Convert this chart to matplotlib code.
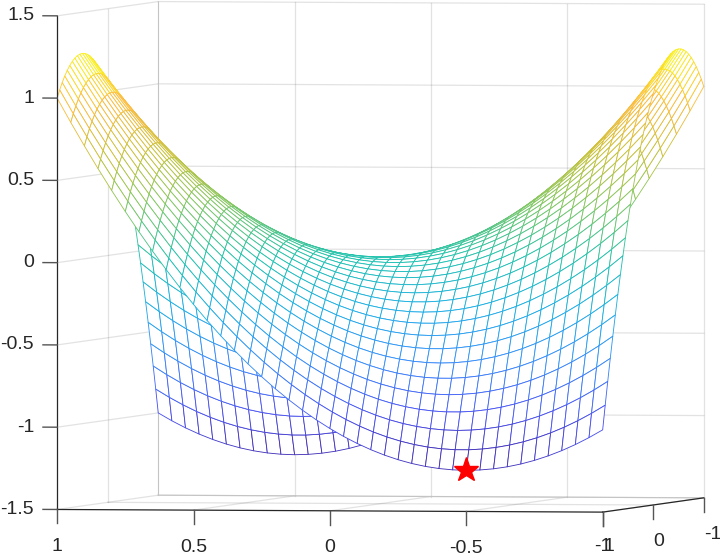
#!/usr/bin/env python3
import matplotlib

matplotlib.use("Agg")
import matplotlib.pyplot as plt
from matplotlib.colors import LinearSegmentedColormap, Normalize
from mpl_toolkits.mplot3d import proj3d
from mpl_toolkits.mplot3d.art3d import Poly3DCollection

X_GRID = [-1.0, -0.95, -0.9, -0.85, -0.8, -0.75, -0.7, -0.65, -0.6, -0.55, -0.5, -0.45, -0.4, -0.35,
          -0.3, -0.25, -0.2, -0.15, -0.1, -0.05, 0.0, 0.05, 0.1, 0.15, 0.2, 0.25, 0.3, 0.35, 0.4,
          0.45, 0.5, 0.55, 0.6, 0.65, 0.7, 0.75, 0.8, 0.85, 0.9, 0.95, 1.0]
Y_GRID = list(X_GRID)

Z_STEP = 0.0025
Z_ROWS = [
    [400,341,284,229,176,125,76,29,-16,-59,-100,-139,-176,-211,-244,-275,-304,-331,-356,-379,-400,-419,-436,-451,-464,-475,-484,-491,-496,-499,-500,-499,-496,-491,-484,-475,-464,-451,-436,-419,-400],
    [419,361,305,251,199,149,101,55,11,-31,-71,-109,-145,-179,-211,-241,-269,-295,-319,-341,-361,-379,-395,-409,-421,-431,-439,-445,-449,-451,-451,-449,-445,-439,-431,-421,-409,-395,-379,-361,-341],
    [436,379,324,271,220,171,124,79,36,-5,-44,-81,-116,-149,-180,-209,-236,-261,-284,-305,-324,-341,-356,-369,-380,-389,-396,-401,-404,-405,-404,-401,-396,-389,-380,-369,-356,-341,-324,-305,-284],
    [451,395,341,289,239,191,145,101,59,19,-19,-55,-89,-121,-151,-179,-205,-229,-251,-271,-289,-305,-319,-331,-341,-349,-355,-359,-361,-361,-359,-355,-349,-341,-331,-319,-305,-289,-271,-251,-229],
    [464,409,356,305,256,209,164,121,80,41,4,-31,-64,-95,-124,-151,-176,-199,-220,-239,-256,-271,-284,-295,-304,-311,-316,-319,-320,-319,-316,-311,-304,-295,-284,-271,-256,-239,-220,-199,-176],
    [475,421,369,319,271,225,181,139,99,61,25,-9,-41,-71,-99,-125,-149,-171,-191,-209,-225,-239,-251,-261,-269,-275,-279,-281,-281,-279,-275,-269,-261,-251,-239,-225,-209,-191,-171,-149,-125],
    [484,431,380,331,284,239,196,155,116,79,44,11,-20,-49,-76,-101,-124,-145,-164,-181,-196,-209,-220,-229,-236,-241,-244,-245,-244,-241,-236,-229,-220,-209,-196,-181,-164,-145,-124,-101,-76],
    [491,439,389,341,295,251,209,169,131,95,61,29,-1,-29,-55,-79,-101,-121,-139,-155,-169,-181,-191,-199,-205,-209,-211,-211,-209,-205,-199,-191,-181,-169,-155,-139,-121,-101,-79,-55,-29],
    [496,445,396,349,304,261,220,181,144,109,76,45,16,-11,-36,-59,-80,-99,-116,-131,-144,-155,-164,-171,-176,-179,-180,-179,-176,-171,-164,-155,-144,-131,-116,-99,-80,-59,-36,-11,16],
    [499,449,401,355,311,269,229,191,155,121,89,59,31,5,-19,-41,-61,-79,-95,-109,-121,-131,-139,-145,-149,-151,-151,-149,-145,-139,-131,-121,-109,-95,-79,-61,-41,-19,5,31,59],
    [500,451,404,359,316,275,236,199,164,131,100,71,44,19,-4,-25,-44,-61,-76,-89,-100,-109,-116,-121,-124,-125,-124,-121,-116,-109,-100,-89,-76,-61,-44,-25,-4,19,44,71,100],
    [499,451,405,361,319,279,241,205,171,139,109,81,55,31,9,-11,-29,-45,-59,-71,-81,-89,-95,-99,-101,-101,-99,-95,-89,-81,-71,-59,-45,-29,-11,9,31,55,81,109,139],
    [496,449,404,361,320,281,244,209,176,145,116,89,64,41,20,1,-16,-31,-44,-55,-64,-71,-76,-79,-80,-79,-76,-71,-64,-55,-44,-31,-16,1,20,41,64,89,116,145,176],
    [491,445,401,359,319,281,245,211,179,149,121,95,71,49,29,11,-5,-19,-31,-41,-49,-55,-59,-61,-61,-59,-55,-49,-41,-31,-19,-5,11,29,49,71,95,121,149,179,211],
    [484,439,396,355,316,279,244,211,180,151,124,99,76,55,36,19,4,-9,-20,-29,-36,-41,-44,-45,-44,-41,-36,-29,-20,-9,4,19,36,55,76,99,124,151,180,211,244],
    [475,431,389,349,311,275,241,209,179,151,125,101,79,59,41,25,11,-1,-11,-19,-25,-29,-31,-31,-29,-25,-19,-11,-1,11,25,41,59,79,101,125,151,179,209,241,275],
    [464,421,380,341,304,269,236,205,176,149,124,101,80,61,44,29,16,5,-4,-11,-16,-19,-20,-19,-16,-11,-4,5,16,29,44,61,80,101,124,149,176,205,236,269,304],
    [451,409,369,331,295,261,229,199,171,145,121,99,79,61,45,31,19,9,1,-5,-9,-11,-11,-9,-5,1,9,19,31,45,61,79,99,121,145,171,199,229,261,295,331],
    [436,395,356,319,284,251,220,191,164,139,116,95,76,59,44,31,20,11,4,-1,-4,-5,-4,-1,4,11,20,31,44,59,76,95,116,139,164,191,220,251,284,319,356],
    [419,379,341,305,271,239,209,181,155,131,109,89,71,55,41,29,19,11,5,1,-1,-1,1,5,11,19,29,41,55,71,89,109,131,155,181,209,239,271,305,341,379],
    [400,361,324,289,256,225,196,169,144,121,100,81,64,49,36,25,16,9,4,1,0,1,4,9,16,25,36,49,64,81,100,121,144,169,196,225,256,289,324,361,400],
    [379,341,305,271,239,209,181,155,131,109,89,71,55,41,29,19,11,5,1,-1,-1,1,5,11,19,29,41,55,71,89,109,131,155,181,209,239,271,305,341,379,419],
    [356,319,284,251,220,191,164,139,116,95,76,59,44,31,20,11,4,-1,-4,-5,-4,-1,4,11,20,31,44,59,76,95,116,139,164,191,220,251,284,319,356,395,436],
    [331,295,261,229,199,171,145,121,99,79,61,45,31,19,9,1,-5,-9,-11,-11,-9,-5,1,9,19,31,45,61,79,99,121,145,171,199,229,261,295,331,369,409,451],
    [304,269,236,205,176,149,124,101,80,61,44,29,16,5,-4,-11,-16,-19,-20,-19,-16,-11,-4,5,16,29,44,61,80,101,124,149,176,205,236,269,304,341,380,421,464],
    [275,241,209,179,151,125,101,79,59,41,25,11,-1,-11,-19,-25,-29,-31,-31,-29,-25,-19,-11,-1,11,25,41,59,79,101,125,151,179,209,241,275,311,349,389,431,475],
    [244,211,180,151,124,99,76,55,36,19,4,-9,-20,-29,-36,-41,-44,-45,-44,-41,-36,-29,-20,-9,4,19,36,55,76,99,124,151,180,211,244,279,316,355,396,439,484],
    [211,179,149,121,95,71,49,29,11,-5,-19,-31,-41,-49,-55,-59,-61,-61,-59,-55,-49,-41,-31,-19,-5,11,29,49,71,95,121,149,179,211,245,281,319,359,401,445,491],
    [176,145,116,89,64,41,20,1,-16,-31,-44,-55,-64,-71,-76,-79,-80,-79,-76,-71,-64,-55,-44,-31,-16,1,20,41,64,89,116,145,176,209,244,281,320,361,404,449,496],
    [139,109,81,55,31,9,-11,-29,-45,-59,-71,-81,-89,-95,-99,-101,-101,-99,-95,-89,-81,-71,-59,-45,-29,-11,9,31,55,81,109,139,171,205,241,279,319,361,405,451,499],
    [100,71,44,19,-4,-25,-44,-61,-76,-89,-100,-109,-116,-121,-124,-125,-124,-121,-116,-109,-100,-89,-76,-61,-44,-25,-4,19,44,71,100,131,164,199,236,275,316,359,404,451,500],
    [59,31,5,-19,-41,-61,-79,-95,-109,-121,-131,-139,-145,-149,-151,-151,-149,-145,-139,-131,-121,-109,-95,-79,-61,-41,-19,5,31,59,89,121,155,191,229,269,311,355,401,449,499],
    [16,-11,-36,-59,-80,-99,-116,-131,-144,-155,-164,-171,-176,-179,-180,-179,-176,-171,-164,-155,-144,-131,-116,-99,-80,-59,-36,-11,16,45,76,109,144,181,220,261,304,349,396,445,496],
    [-29,-55,-79,-101,-121,-139,-155,-169,-181,-191,-199,-205,-209,-211,-211,-209,-205,-199,-191,-181,-169,-155,-139,-121,-101,-79,-55,-29,-1,29,61,95,131,169,209,251,295,341,389,439,491],
    [-76,-101,-124,-145,-164,-181,-196,-209,-220,-229,-236,-241,-244,-245,-244,-241,-236,-229,-220,-209,-196,-181,-164,-145,-124,-101,-76,-49,-20,11,44,79,116,155,196,239,284,331,380,431,484],
    [-125,-149,-171,-191,-209,-225,-239,-251,-261,-269,-275,-279,-281,-281,-279,-275,-269,-261,-251,-239,-225,-209,-191,-171,-149,-125,-99,-71,-41,-9,25,61,99,139,181,225,271,319,369,421,475],
    [-176,-199,-220,-239,-256,-271,-284,-295,-304,-311,-316,-319,-320,-319,-316,-311,-304,-295,-284,-271,-256,-239,-220,-199,-176,-151,-124,-95,-64,-31,4,41,80,121,164,209,256,305,356,409,464],
    [-229,-251,-271,-289,-305,-319,-331,-341,-349,-355,-359,-361,-361,-359,-355,-349,-341,-331,-319,-305,-289,-271,-251,-229,-205,-179,-151,-121,-89,-55,-19,19,59,101,145,191,239,289,341,395,451],
    [-284,-305,-324,-341,-356,-369,-380,-389,-396,-401,-404,-405,-404,-401,-396,-389,-380,-369,-356,-341,-324,-305,-284,-261,-236,-209,-180,-149,-116,-81,-44,-5,36,79,124,171,220,271,324,379,436],
    [-341,-361,-379,-395,-409,-421,-431,-439,-445,-449,-451,-451,-449,-445,-439,-431,-421,-409,-395,-379,-361,-341,-319,-295,-269,-241,-211,-179,-145,-109,-71,-31,11,55,101,149,199,251,305,361,419],
    [-400,-419,-436,-451,-464,-475,-484,-491,-496,-499,-500,-499,-496,-491,-484,-475,-464,-451,-436,-419,-400,-379,-356,-331,-304,-275,-244,-211,-176,-139,-100,-59,-16,29,76,125,176,229,284,341,400],
]

X_TICKS = [1, 0.5, 0, -0.5, -1]
X_LABELS = ["1", "0.5", "0", "-0.5", "-1"]
Y_TICKS = [1, 0, -1]
Y_LABELS = ["1", "0", "-1"]
Z_TICKS = [1.5, 1, 0.5, 0, -0.5, -1, -1.5]
Z_LABELS = ["1.5", "1", "0.5", "0", "-0.5", "-1", "-1.5"]

STAR_X = [-0.5]
STAR_Y = [1]
STAR_Z = [-1.25]

PARULA = [(0.2422, 0.1504, 0.6603), (0.2810, 0.3228, 0.9579), (0.2000, 0.5500, 0.9800),
          (0.1000, 0.6800, 0.9000), (0.1200, 0.7600, 0.6800), (0.4900, 0.7800, 0.3900),
          (0.7800, 0.7600, 0.2200), (0.9900, 0.7300, 0.2400), (0.9769, 0.9839, 0.0805)]
TEXT_COLOR = "#262626"
GRID = dict(color="#262626", alpha=0.13, lw=0.9, zorder=1)
EDGE = dict(color="#c4c4c4", lw=0.8, zorder=1)
AXIS = dict(color="#262626", lw=0.9, zorder=3)
TICK = dict(color="#555555", lw=1.0, zorder=3)

plt.rcParams["font.family"] = ["Liberation Sans", "DejaVu Sans"]

fig = plt.figure(figsize=(7.2, 5.56), dpi=100)
ax = fig.add_axes([-81.7 / 720, -163 / 556, 900 / 720, 900 / 556], projection="3d", proj_type="ortho")
ax.computed_zorder = False
ax.set_xlim(-1, 1, view_margin=0)
ax.set_ylim(-1, 1, view_margin=0)
ax.set_zlim(-1.5, 1.5, view_margin=0)
ax.set_box_aspect((1, 1, 0.89))
ax.view_init(elev=1.5, azim=100.5)
ax.set_axis_off()


def tick_label(x, y, z, label, dx, dy, ha="center"):
    # 2D annotation at the projected tick, offset in pixels
    px, py, _ = proj3d.proj_transform(x, y, z, ax.get_proj())
    ax.annotate(label, xy=(px, py), xytext=(dx, dy), textcoords="offset pixels",
                ha=ha, va="center", fontsize=14, color=TEXT_COLOR)


# walls and floor
for z in Z_TICKS:
    ax.plot([1, 1], [1, -1], [z, z], **GRID)
    ax.plot([1, -1], [-1, -1], [z, z], **GRID)
for x in X_TICKS[1:]:
    ax.plot([x, x], [-1, -1], [-1.5, 1.5], **GRID)
    ax.plot([x, x], [1, -1], [-1.5, -1.5], **GRID)
ax.plot([1, 1], [0, 0], [-1.5, 1.5], **GRID)
ax.plot([1, -1], [0, 0], [-1.5, -1.5], **GRID)
ax.plot([1, 1], [-1, -1], [-1.5, 1.5], **EDGE)
ax.plot([1, -1], [-1, -1], [-1.5, -1.5], **EDGE)

# mesh
cmap = LinearSegmentedColormap.from_list("parula", PARULA)
norm = Normalize(-1.25, 1.25)
verts = []
colors = []
for j in range(len(Y_GRID) - 1):
    for i in range(len(X_GRID) - 1):
        corners = [(i, j), (i + 1, j), (i + 1, j + 1), (i, j + 1)]
        heights = [Z_ROWS[b][a] * Z_STEP for a, b in corners]
        verts.append([(X_GRID[a], Y_GRID[b], h) for (a, b), h in zip(corners, heights)])
        colors.append(cmap(norm(sum(heights) / 4)))
mesh = Poly3DCollection(verts, facecolors="white", edgecolors=colors, linewidths=0.62, zorder=2)
ax.add_collection3d(mesh)

# axes
ax.plot([1, 1], [1, 1], [-1.5, 1.5], **AXIS)
ax.plot([1, -1], [1, 1], [-1.5, -1.5], **AXIS)
ax.plot([-1, -1], [1, -1], [-1.5, -1.5], **AXIS)

for z, label in zip(Z_TICKS, Z_LABELS):
    ax.plot([1, 1.052], [1, 1], [z, z], **TICK)
    tick_label(1, 1, z, label, -23, 0, ha="right")
for x, label, dy in zip(X_TICKS, X_LABELS, [-37, -37, -37, -37, -34]):
    ax.plot([x, x], [1, 1], [-1.5, -1.585], **TICK)
    tick_label(x, 1, -1.5, label, 0, dy)
for y, label, dx, dy in zip(Y_TICKS, Y_LABELS, [6, 5, 9], [-34, -37, -37]):
    ax.plot([-1, -1], [y, y], [-1.5, -1.585], **TICK)
    tick_label(-1, y, -1.5, label, dx, dy)

ax.plot(STAR_X, STAR_Y, STAR_Z, marker="*", ms=18.5, color="#ff0000", mec="#ff0000", ls="none", zorder=4)

fig.savefig("out.png", dpi=100)
